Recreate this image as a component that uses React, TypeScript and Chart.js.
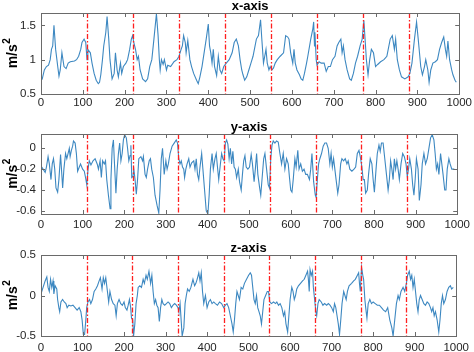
import React, { useEffect, useRef } from "react";
import { Chart, registerables } from "chart.js";

Chart.register(...registerables);

// ---------------- data ----------------
const segmentBoundaries = [110, 220, 330, 440, 550, 660, 770, 880];
const xTickValues = [0, 100, 200, 300, 400, 500, 600, 700, 800, 900, 1000];
const panelTitles = ["x-axis", "y-axis", "z-axis"];
const yLabelText = "m/s";
const yLabelSup = "2";

const ticksAccX = [0.5, 1, 1.5];
const ticksAccY = [-0.6, -0.4, -0.2, 0];
const ticksAccZ = [-0.5, 0, 0.5];

const timeX = [
  0, 3, 8, 13, 18, 22, 25, 28, 31, 35,
  40, 43, 46, 50, 55, 60, 65, 70, 80, 85,
  90, 95, 98, 103, 107, 110, 112, 118, 122, 127,
  132, 137, 140, 143, 147, 150, 155, 158, 162, 165,
  170, 175, 178, 182, 185, 190, 193, 197, 203, 207,
  212, 216, 219, 222, 226, 230, 233, 237, 243, 250,
  255, 260, 265, 270, 276, 280, 283, 285, 288, 292,
  295, 300, 303, 310, 318, 325, 330, 335, 338, 341,
  345, 347, 351, 356, 360, 365, 372, 376, 380, 385,
  390, 395, 400, 403, 406, 409, 412, 415, 420, 424,
  428, 432, 437, 443, 450, 457, 462, 467, 472, 476,
  480, 483, 487, 492, 497, 502, 507, 515, 520, 525,
  528, 532, 535, 538, 541, 545, 548, 552, 556, 560,
  565, 572, 580, 585, 590, 593, 597, 602, 605, 608,
  612, 618, 622, 626, 630, 635, 638, 645, 650, 652,
  654, 655, 658, 660, 665, 670, 677, 682, 687, 692,
  697, 703, 708, 712, 717, 720, 723, 727, 732, 738,
  742, 747, 752, 757, 763, 768, 772, 776, 778, 782,
  786, 790, 795, 800, 805, 812, 820, 827, 835, 840,
  845, 848, 852, 857, 862, 870, 878, 882, 887, 893,
  898, 902, 905, 908, 912, 917, 920, 925, 928, 932,
  937, 943, 948, 953, 958, 963, 967, 970, 973, 977,
  982, 985, 990, 993,
];
const accX = [
  0.74, 0.72, 0.85, 0.9, 0.92, 1.0, 1.15, 1.2, 1.5, 1.15,
  0.9, 0.76, 0.85, 1.1, 0.9, 0.87, 0.95, 0.97, 0.98, 1.0,
  1.05, 1.15, 1.25, 1.3, 1.25, 1.0, 1.15, 1.1, 0.95, 0.8,
  0.7, 0.65, 0.67, 0.78, 1.0, 1.2, 1.4, 1.63, 1.3, 1.0,
  0.72, 0.8, 1.1, 0.85, 0.75, 0.95, 0.8, 0.9, 0.95, 1.0,
  1.15, 1.3, 1.35, 1.25, 1.15, 1.0, 1.05, 0.85, 0.72, 0.68,
  0.72, 0.9, 1.0, 1.3, 1.67, 1.35, 1.0, 0.85, 1.0, 0.93,
  1.0, 0.85, 0.92, 0.9, 0.97, 1.0, 1.05, 1.15, 1.2, 1.35,
  1.25, 1.1, 1.28, 1.0, 0.9, 0.8, 0.7, 0.65, 0.75, 0.9,
  1.1, 1.3, 1.52, 1.2, 1.1, 0.95, 1.15, 0.9, 0.77, 1.05,
  0.85, 0.8, 0.9, 0.95, 1.0, 1.1, 1.25, 1.3, 1.2, 1.0,
  0.85, 0.78, 0.7, 0.75, 0.85, 0.95, 1.05, 1.3, 1.35, 1.58,
  1.3, 0.95, 1.05, 1.15, 0.95, 0.85, 0.9, 0.85, 0.88, 0.95,
  1.0, 1.05, 1.1, 1.35, 1.33, 1.3, 1.1, 0.95, 1.15, 0.95,
  0.85, 0.78, 0.72, 0.7, 0.8, 0.95, 1.05, 1.3, 1.45, 1.55,
  1.2, 1.4, 1.0, 0.92, 0.97, 0.95, 0.95, 0.83, 0.9, 0.9,
  1.0, 1.05, 1.2, 1.25, 1.3, 1.1, 1.2, 1.0, 0.85, 0.72,
  0.7, 0.8, 0.95, 1.05, 1.2, 1.3, 1.57, 1.2, 1.0, 0.78,
  1.0, 1.15, 1.1, 0.9, 0.93, 0.97, 1.0, 1.05, 1.3, 1.35,
  1.15, 1.3, 1.0, 0.85, 0.75, 0.72, 0.75, 0.8, 0.95, 1.3,
  1.55, 1.3, 1.1, 0.9, 0.78, 0.9, 1.0, 0.85, 0.67, 0.85,
  0.95, 0.97, 1.0, 1.15, 1.25, 1.33, 1.15, 1.05, 1.27, 1.0,
  0.85, 0.78, 0.7, 0.67,
];

const timeY = [
  0, 5, 10, 13, 17, 20, 24, 27, 30, 33,
  36, 40, 43, 47, 50, 52, 55, 59, 62, 65,
  68, 70, 73, 76, 78, 82, 85, 88, 92, 95,
  100, 104, 107, 110, 113, 116, 120, 125, 130, 135,
  138, 142, 145, 148, 152, 155, 158, 162, 166, 168,
  171, 174, 176, 180, 183, 186, 189, 192, 195, 198,
  201, 205, 208, 211, 214, 216, 218, 221, 223, 226,
  229, 232, 235, 240, 244, 246, 250, 253, 256, 260,
  263, 266, 270, 274, 279, 283, 286, 289, 292, 296,
  300, 303, 306, 310, 315, 320, 325, 328, 331, 334,
  337, 340, 343, 345, 348, 351, 355, 358, 362, 367,
  370, 373, 376, 379, 382, 386, 389, 393, 397, 401,
  404, 407, 411, 414, 418, 421, 424, 427, 431, 434,
  437, 440, 443, 446, 449, 452, 455, 458, 461, 464,
  467, 470, 474, 477, 481, 484, 487, 490, 493, 497,
  501, 505, 508, 512, 515, 518, 521, 525, 528, 531,
  535, 538, 542, 546, 549, 552, 555, 558, 562, 566,
  570, 574, 578, 582, 586, 590, 594, 597, 600, 603,
  606, 610, 613, 617, 620, 624, 628, 632, 636, 640,
  645, 648, 651, 655, 659, 661, 664, 667, 670, 674,
  678, 682, 686, 690, 694, 697, 700, 703, 706, 709,
  713, 716, 720, 723, 727, 731, 735, 738, 742, 747,
  752, 756, 760, 764, 768, 771, 774, 777, 780, 784,
  787, 791, 795, 798, 801, 805, 808, 812, 815, 818,
  822, 826, 830, 834, 837, 840, 843, 846, 849, 852,
  855, 858, 861, 865, 869, 873, 877, 880, 883, 886,
  890, 893, 896, 899, 902, 906, 909, 913, 916, 920,
  924, 928, 932, 936, 940, 944, 947, 950, 953, 956,
  960, 963, 966, 970, 973, 976, 980, 983, 987, 993,
];
const accY = [
  -0.17, -0.2, -0.23, -0.18, -0.08, -0.15, -0.3, -0.15, -0.1, -0.2,
  -0.38, -0.42, -0.3, -0.06, -0.25, -0.38, -0.2, -0.05, -0.1, -0.05,
  0, -0.08, -0.02, 0.02, 0.07, 0.05, -0.05, -0.22, -0.18, -0.15,
  -0.2, -0.22, -0.28, -0.35, -0.2, -0.12, -0.16, -0.12, -0.1, -0.15,
  -0.2, -0.12, -0.28, -0.12, -0.15, -0.12, -0.3, -0.45, -0.58, -0.3,
  0, 0.08, -0.1, -0.43, -0.2, -0.05, 0.05, -0.12, -0.05, 0.08,
  0.13, 0.1, 0, -0.12, -0.07, 0.03, -0.28, -0.27, -0.2, -0.3,
  -0.44, -0.3, -0.1, -0.08, -0.12, -0.08, -0.25, -0.28, -0.2, -0.12,
  -0.1, -0.2, -0.28, -0.45, -0.55, -0.62, -0.4, -0.1, 0, -0.25,
  -0.12, -0.2, -0.15, -0.05, 0.02, 0.05, 0.08, 0.05, -0.1, -0.15,
  -0.12, -0.18, -0.2, -0.28, -0.2, -0.15, -0.1, -0.18, -0.14, -0.12,
  -0.2, -0.1, -0.25, -0.3, -0.18, -0.05, -0.2, -0.4, -0.6, -0.63,
  -0.45, -0.2, -0.05, -0.2, -0.1, -0.05, -0.18, -0.3, -0.15, -0.05,
  -0.1, -0.12, 0.05, 0.08, 0.04, -0.1, 0, -0.15, -0.03, -0.18,
  -0.2, -0.28, -0.2, -0.32, -0.4, -0.25, -0.12, -0.07, -0.18, -0.2,
  -0.18, -0.06, -0.15, -0.32, -0.2, -0.05, -0.25, -0.37, -0.45, -0.3,
  -0.1, -0.05, -0.2, -0.35, -0.38, -0.1, 0.03, 0.07, 0.05, 0.07,
  0.06, -0.05, -0.15, -0.05, -0.2, -0.1, -0.15, -0.28, -0.4, -0.42,
  -0.3, -0.1, -0.18, -0.02, -0.2, -0.15, -0.22, -0.2, -0.25, -0.25,
  -0.3, -0.2, -0.05, -0.32, -0.45, -0.47, -0.3, -0.15, -0.1, -0.05,
  0.02, 0.05, 0.05, 0, -0.15, -0.05, -0.18, -0.1, -0.2, -0.3,
  -0.43, -0.35, -0.15, -0.1, -0.12, -0.1, -0.15, -0.12, -0.2, -0.22,
  -0.2, -0.18, -0.05, -0.02, -0.1, -0.18, -0.3, -0.3, -0.43, -0.4,
  -0.25, -0.1, -0.15, -0.3, -0.42, -0.2, -0.05, 0.03, -0.03, 0.05,
  0.05, -0.1, -0.25, -0.4, -0.3, -0.12, -0.2, -0.3, -0.1, -0.2,
  -0.12, -0.2, -0.3, -0.15, -0.05, -0.08, -0.15, -0.27, -0.2, -0.1,
  -0.2, -0.35, -0.45, -0.3, -0.1, -0.2, -0.5, -0.35, -0.15, -0.05,
  -0.15, -0.1, 0, 0.1, 0.13, 0.08, -0.05, -0.2, -0.15, -0.25,
  -0.05, -0.15, -0.25, -0.4, -0.4, -0.2, -0.1, -0.15, -0.2, -0.2,
];

const timeZ = [
  0, 5, 10, 14, 17, 20, 23, 26, 29, 31,
  34, 38, 40, 43, 45, 48, 52, 56, 60, 63,
  67, 72, 77, 82, 87, 92, 96, 99, 102, 105,
  108, 110, 113, 117, 120, 124, 128, 132, 136, 140,
  143, 147, 150, 153, 156, 160, 163, 166, 170, 174,
  178, 181, 184, 188, 192, 196, 200, 203, 207, 210,
  213, 216, 218, 221, 223, 226, 229, 232, 234, 238,
  242, 246, 249, 253, 256, 260, 264, 267, 270, 273,
  276, 279, 282, 285, 288, 291, 294, 298, 302, 306,
  310, 314, 318, 322, 326, 330, 332, 335, 340, 344,
  347, 350, 353, 357, 361, 366, 370, 373, 376, 380,
  383, 386, 389, 392, 396, 400, 404, 408, 412, 416,
  420, 425, 430, 435, 440, 444, 448, 452, 456, 460,
  463, 466, 469, 472, 475, 478, 482, 486, 490, 495,
  500, 504, 507, 510, 513, 516, 519, 522, 525, 528,
  531, 534, 537, 541, 545, 548, 551, 555, 560, 565,
  568, 572, 576, 580, 584, 587, 590, 594, 597, 600,
  604, 607, 610, 613, 616, 620, 625, 630, 634, 638,
  642, 644, 646, 648, 651, 654, 656, 659, 662, 664,
  667, 670, 675, 679, 683, 688, 692, 696, 700, 704,
  707, 710, 713, 716, 719, 722, 725, 729, 732, 735,
  738, 742, 748, 753, 757, 762, 765, 767, 769, 772,
  775, 777, 780, 782, 785, 788, 792, 796, 800, 805,
  810, 815, 820, 825, 830, 835, 840, 845, 848, 852,
  856, 860, 863, 867, 872, 876, 880, 883, 887, 890,
  893, 896, 899, 902, 905, 908, 911, 914, 918, 922,
  926, 930, 934, 938, 941, 944, 947, 950, 954, 958,
  961, 964, 967, 970, 974, 978, 982, 986, 989, 993,
];
const accZ = [
  0.02, 0.1, 0.18, 0.23, 0.1, 0.05, 0.2, 0.1, 0.18, 0.02,
  0.12, 0.08, -0.05, -0.15, -0.2, -0.08, -0.05, -0.08, -0.1, -0.15,
  -0.12, -0.13, -0.12, -0.15, -0.18, -0.15, -0.2, -0.3, -0.48, -0.48,
  -0.3, -0.15, -0.08, -0.05, -0.1, -0.05, 0.05, 0.08, 0.12, 0.18,
  0.22, 0.08, 0.22, 0.15, 0.22, 0.05, -0.08, 0.05, -0.05, -0.1,
  -0.12, -0.25, -0.1, -0.05, -0.1, -0.12, -0.08, -0.15, -0.18, -0.12,
  -0.05, -0.15, -0.28, -0.3, -0.5, -0.35, -0.1, 0, 0.1, 0.12,
  0.1, 0.2, 0.15, 0.25, 0.2, 0.3, 0.15, 0.25, 0.05, -0.1,
  -0.05, -0.12, -0.15, -0.32, -0.15, -0.05, -0.1, -0.12, -0.1, -0.08,
  -0.1, -0.15, -0.12, -0.1, -0.12, -0.15, -0.2, -0.1, -0.5, -0.4,
  -0.1, 0, 0.08, 0.05, 0.1, 0.2, 0.12, 0.15, 0.2, 0.28,
  0.18, 0.28, 0.05, -0.1, 0, -0.15, -0.08, -0.05, -0.1, -0.08,
  -0.1, -0.12, -0.08, -0.1, -0.15, -0.12, -0.1, -0.15, -0.25, -0.35,
  -0.45, -0.3, -0.1, 0.05, 0, -0.05, 0.1, 0.08, 0.15, 0.2,
  0.25, 0.28, 0.25, 0.1, -0.05, -0.1, 0, -0.15, -0.2, -0.25,
  -0.35, -0.2, -0.05, 0, 0.05, 0.05, -0.08, -0.1, -0.08, -0.1,
  -0.08, -0.12, -0.1, -0.15, -0.25, -0.2, -0.35, -0.45, -0.25, -0.05,
  0.1, 0.05, -0.05, 0, 0.08, 0.12, 0.15, 0.18, 0.2, 0.25,
  0.3, 0.2, 0.05, 0.32, 0.25, 0.3, 0.1, -0.05, -0.2, -0.25,
  -0.1, -0.05, -0.08, -0.12, -0.1, -0.12, -0.1, -0.12, -0.15, -0.2,
  -0.1, -0.15, -0.25, -0.35, -0.48, -0.3, -0.1, 0.05, 0, -0.05,
  0.05, 0.12, 0.15, 0.18, 0.2, 0.25, 0.28, 0.15, 0.05, 0.35,
  0.25, 0.2, -0.05, -0.15, -0.28, -0.1, -0.05, -0.1, -0.08, -0.1,
  -0.12, -0.12, -0.15, -0.18, -0.2, -0.15, -0.3, -0.4, -0.5, -0.3,
  -0.1, 0, -0.05, 0.05, 0.1, 0.05, 0.15, 0.25, 0.3, 0.2,
  0.25, 0.1, 0.2, 0.05, -0.1, -0.2, -0.05, 0, -0.05, -0.1,
  -0.12, -0.08, -0.1, -0.15, -0.2, -0.15, -0.25, -0.2, -0.3, -0.45,
  -0.3, -0.1, 0, -0.1, -0.05, 0.05, 0.1, 0.12, 0.08, 0.1,
];

// ---------------- styling ----------------
const FONT = "'Liberation Sans', Arial, Helvetica, sans-serif";
const LINE_COLOR = "#3d88c1";
const MARK_COLOR = "#ff1f1f";
const AXIS_COLOR = "#262626";
const BOX_COLOR = "#6a6a6a";
const Y_AXIS_WIDTH = 41;
const RIGHT_PAD = 13;

type PanelProps = {
  title: string;
  times: number[];
  values: number[];
  yMin: number;
  yMax: number;
  yTicks: number[];
  top: number;
  height: number;
  padTop: number;
  xAxisHeight: number;
  labelPad: number;
};

function makeAxesPlugin(title: string, yTicks: number[]) {
  return {
    id: "matlabAxes",
    afterDatasetsDraw(chart: any) {
      const { ctx, chartArea } = chart;
      const { left, right, top, bottom } = chartArea;
      const xs = chart.scales.x;
      const ys = chart.scales.y;
      ctx.save();
      // dash-dot segment markers
      ctx.lineWidth = 1.3;
      ctx.strokeStyle = MARK_COLOR;
      ctx.setLineDash([5, 2, 1.5, 2]);
      for (const b of segmentBoundaries) {
        const px = Math.round(xs.getPixelForValue(b)) + 0.5;
        ctx.beginPath();
        ctx.strokeStyle = MARK_COLOR;
        ctx.moveTo(px, top);
        ctx.lineTo(px, bottom);
        ctx.stroke();
      }
      ctx.setLineDash([]);
      // box
      ctx.strokeStyle = BOX_COLOR;
      ctx.lineWidth = 1;
      ctx.strokeRect(Math.round(left) + 0.5, Math.round(top) + 0.5, Math.round(right - left), Math.round(bottom - top));
      // inward ticks
      const tl = 4;
      ctx.beginPath();
      for (const v of xTickValues) {
        const px = Math.round(xs.getPixelForValue(v)) + 0.5;
        ctx.moveTo(px, bottom);
        ctx.lineTo(px, bottom - tl);
        ctx.moveTo(px, top);
        ctx.lineTo(px, top + tl);
      }
      for (const v of yTicks) {
        const py = Math.round(ys.getPixelForValue(v)) + 0.5;
        ctx.moveTo(left, py);
        ctx.lineTo(left + tl, py);
        ctx.moveTo(right, py);
        ctx.lineTo(right - tl, py);
      }
      ctx.stroke();
      // title
      ctx.fillStyle = "#000";
      ctx.font = `bold 13px ${FONT}`;
      ctx.textAlign = "center";
      ctx.textBaseline = "alphabetic";
      ctx.fillText(title, (left + right) / 2, top - 3);
      // y label
      const cy = (top + bottom) / 2;
      ctx.translate(12, cy);
      ctx.rotate(-Math.PI / 2);
      ctx.font = `bold 14px ${FONT}`;
      const w1 = ctx.measureText(yLabelText).width;
      ctx.font = `bold 10px ${FONT}`;
      const w2 = ctx.measureText(yLabelSup).width;
      const start = -(w1 + w2) / 2;
      ctx.textAlign = "left";
      ctx.textBaseline = "alphabetic";
      ctx.font = `bold 14px ${FONT}`;
      ctx.fillText(yLabelText, start, 5);
      ctx.font = `bold 10px ${FONT}`;
      ctx.fillText(yLabelSup, start + w1 + 0.5, -2);
      ctx.restore();
    },
  };
}

function Panel(props: PanelProps) {
  const ref = useRef<HTMLCanvasElement | null>(null);
  useEffect(() => {
    if (!ref.current) return;
    const { title, times, values, yMin, yMax, yTicks, padTop, xAxisHeight, labelPad } = props;
    const chart = new Chart(ref.current, {
      type: "line",
      data: {
        datasets: [
          {
            data: times.map((t, i) => ({ x: t, y: values[i] })),
            borderColor: LINE_COLOR,
            borderWidth: 1.1,
            pointRadius: 0,
            tension: 0,
            fill: false,
          },
        ],
      },
      options: {
        responsive: false,
        maintainAspectRatio: false,
        animation: false,
        events: [],
        layout: { padding: { top: padTop, left: 0, right: RIGHT_PAD, bottom: 0 } },
        plugins: {
          legend: { display: false },
          tooltip: { enabled: false },
          title: { display: false },
        },
        scales: {
          x: {
            type: "linear",
            min: 0,
            max: 1000,
            grid: { display: false, drawTicks: false },
            border: { display: false },
            ticks: {
              padding: labelPad,
              color: AXIS_COLOR,
              font: { family: FONT, size: 11.5 },
              maxRotation: 0,
              autoSkip: false,
              callback: (v: any) => String(v),
            },
            afterBuildTicks: (s: any) => {
              s.ticks = xTickValues.map((v) => ({ value: v }));
            },
            afterFit: (s: any) => {
              s.height = xAxisHeight;
            },
          },
          y: {
            type: "linear",
            min: yMin,
            max: yMax,
            grid: { display: false, drawTicks: false },
            border: { display: false },
            ticks: {
              padding: 5,
              color: AXIS_COLOR,
              font: { family: FONT, size: 11.5 },
              autoSkip: false,
              callback: (v: any) => String(v),
            },
            afterBuildTicks: (s: any) => {
              s.ticks = yTicks.map((v) => ({ value: v }));
            },
            afterFit: (s: any) => {
              s.width = Y_AXIS_WIDTH;
            },
          },
        },
      },
      plugins: [makeAxesPlugin(title, yTicks)],
    } as any);
    return () => chart.destroy();
  }, []);
  return (
    <canvas
      ref={ref}
      width={474}
      height={props.height}
      style={{ position: "absolute", left: 0, top: props.top, display: "block" }}
    />
  );
}

export default function App() {
  return (
    <div
      style={{
        position: "absolute",
        left: 0,
        top: 0,
        width: 474,
        height: 352,
        background: "#fff",
        overflow: "hidden",
      }}
    >
      <Panel title={panelTitles[0]} times={timeX} values={accX} yMin={0.5} yMax={1.68} yTicks={ticksAccX} top={0} height={114} padTop={13} xAxisHeight={20} labelPad={2} />
      <Panel title={panelTitles[1]} times={timeY} values={accY} yMin={-0.63} yMax={0.137} yTicks={ticksAccY} top={114} height={118} padTop={20} xAxisHeight={18} labelPad={4} />
      <Panel title={panelTitles[2]} times={timeZ} values={accZ} yMin={-0.5} yMax={0.5} yTicks={ticksAccZ} top={232} height={120} padTop={23} xAxisHeight={16} labelPad={5} />
    </div>
  );
}
